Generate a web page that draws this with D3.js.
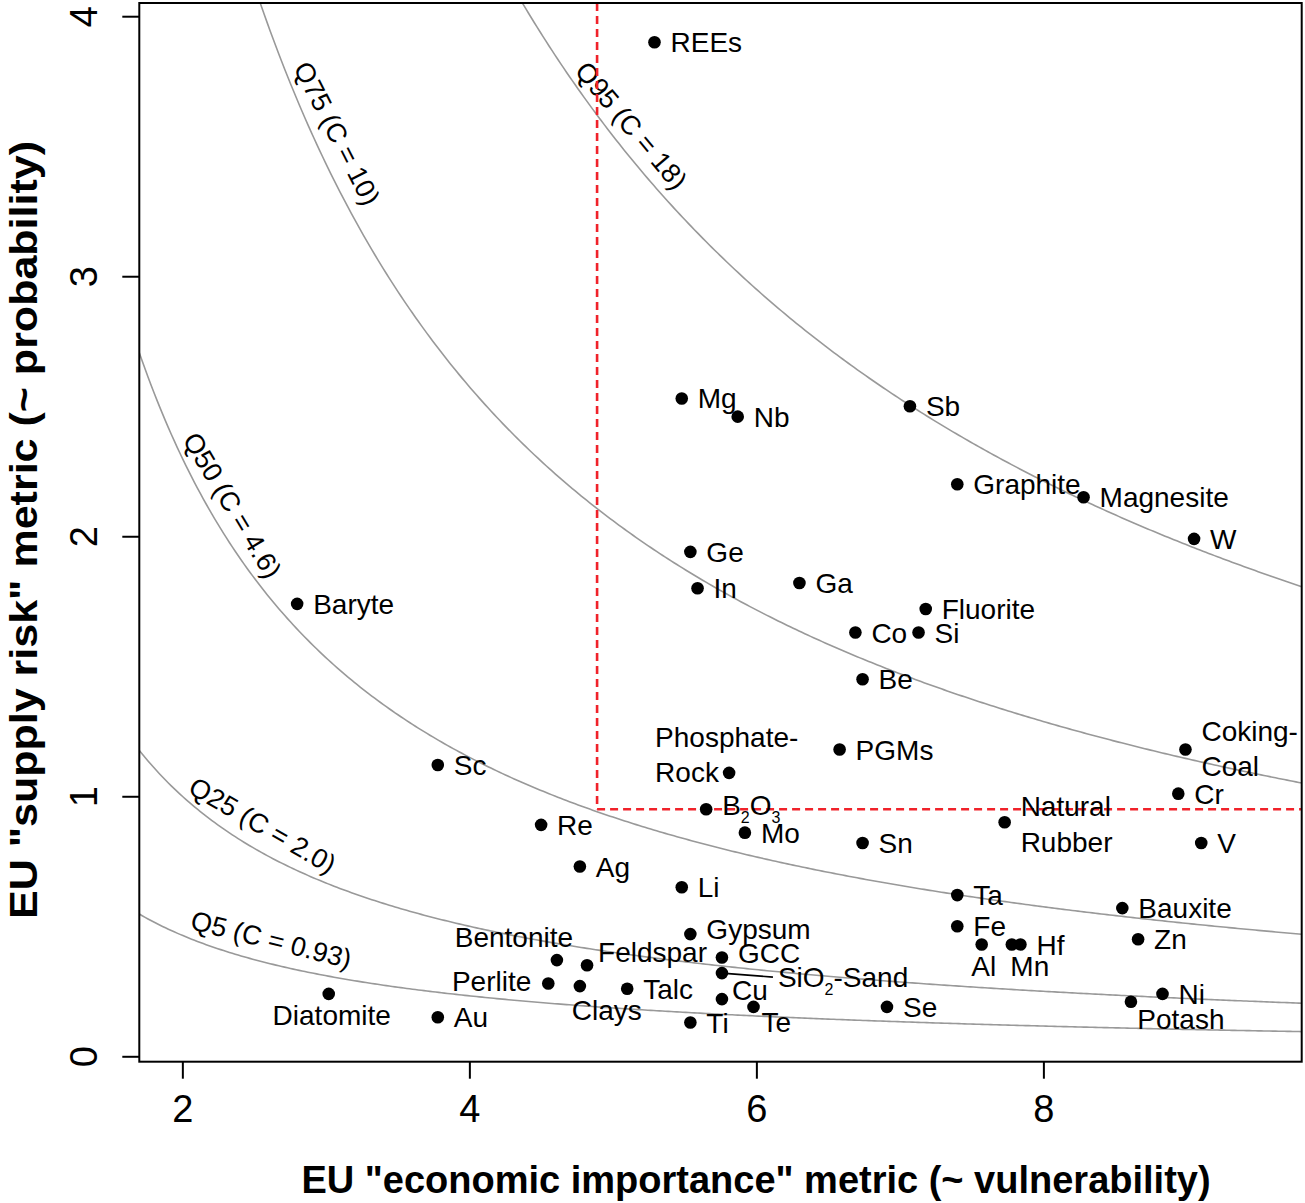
<!DOCTYPE html>
<html>
<head>
<meta charset="utf-8">
<script src="https://cdn.jsdelivr.net/npm/d3@7"></script>
<style>
  body { margin: 0; background: #fff; }
  text { font-family: "Liberation Sans", Arial, Helvetica, sans-serif; fill: #000; }
</style>
</head>
<body>
<svg id="chart" width="1305" height="1203"></svg>
<script>
// ---- data ----
const names = ["REEs","Mg","Nb","Sb","Graphite","Magnesite","W","Ge","In","Ga","Fluorite","Co","Si","Be",
  "Baryte","PGMs","Phosphate-Rock","Coking-Coal","Cr","Natural Rubber","V","Sc","B2O3","Mo","Sn","Re","Ag",
  "Li","Ta","Bauxite","Fe","Gypsum","Al","Mn","Hf","Zn","GCC","SiO2-Sand","Cu","Bentonite","Feldspar",
  "Perlite","Clays","Talc","Diatomite","Au","Ti","Te","Se","Ni","Potash"];
const importance = [5.29,5.48,5.87,7.07,7.40,8.28,9.05,5.54,5.59,6.30,7.18,6.69,7.13,6.74,
  2.80,6.58,5.81,8.99,8.94,7.73,9.10,3.78,5.65,5.92,6.74,4.50,4.77,
  5.48,7.40,8.55,7.40,5.54,7.57,7.78,7.84,8.66,5.76,5.76,5.76,4.61,4.82,
  4.55,4.77,5.10,3.02,3.78,5.54,5.98,6.91,8.83,8.61];
const supplyRisk = [3.90,2.53,2.46,2.50,2.20,2.15,1.99,1.94,1.80,1.82,1.72,1.63,1.63,1.45,
  1.74,1.18,1.09,1.18,1.01,0.90,0.82,1.12,0.95,0.86,0.82,0.89,0.73,
  0.65,0.62,0.57,0.50,0.47,0.43,0.43,0.43,0.45,0.38,0.32,0.22,0.37,0.35,
  0.28,0.27,0.26,0.24,0.15,0.13,0.19,0.19,0.24,0.21];

// iso-criticality curves y = C / x
const curveNames = ["Q5 (C = 0.93)","Q25 (C = 2.0)","Q50 (C = 4.6)","Q75 (C = 10)","Q95 (C = 18)"];
const curveC = [0.93, 2.0, 4.6, 10.3, 17.7];
const curveLabelX = [2.62, 2.56, 2.35, 3.08, 5.13];
const curveLabelY = [0.45, 0.89, 2.12, 3.55, 3.58];
const curveLabelAngle = [14, 30, 59, 63, 50];

// criticality thresholds (red dashed)
const thresholdImportance = 4.89;
const thresholdRisk = 0.95;

const xLim = [2, 9.5];
const xTicks = [2, 4, 6, 8];
const yTicks = [0, 1, 2, 3, 4];

// label placement (pixel offsets from the dot), default: right of the dot
const labelText = {
  "Phosphate-Rock": ["Phosphate-", "Rock"],
  "Coking-Coal": ["Coking-", "Coal"],
  "Natural Rubber": ["Natural", "Rubber"],
  "B2O3": ["B_2O_3"],
  "SiO2-Sand": ["SiO_2-Sand"]
};
const labelPlace = {
  "Mg": {dy: -1},
  "Phosphate-Rock": {dx: -74, dy: -36},
  "Coking-Coal": {dy: -19},
  "Natural Rubber": {dy: -16},
  "B2O3": {dy: -4},
  "SiO2-Sand": {dx: 56, dy: 4, leader: true},
  "Gypsum": {dy: -5},
  "GCC": {dy: -5},
  "Cu": {dx: 10, dy: -9},
  "Feldspar": {dx: 11, dy: -13},
  "Te": {dx: 8, dy: 15},
  "Clays": {anchor: "middle", dx: 27, dy: 24},
  "Perlite": {anchor: "end", dx: -17, dy: -3},
  "Bentonite": {anchor: "middle", dx: -43, dy: -23},
  "Diatomite": {anchor: "middle", dx: 3, dy: 21},
  "Al": {anchor: "middle", dx: 2, dy: 21},
  "Mn": {anchor: "middle", dx: 18, dy: 21},
  "Potash": {anchor: "middle", dx: 50, dy: 17}
};

// ---- layout ----
const svg = d3.select("#chart");
const plot = {left: 139.3, right: 1301.7, top: 3, bottom: 1061.7};
const fsLabel = 28, fsAxis = 38;

function pad(ext) { let r = ext[1] - ext[0]; return [ext[0] - 0.04 * r, ext[1] + 0.04 * r]; }

let x = d3.scaleLinear().domain(pad(xLim)).range([plot.left, plot.right]);
let y = d3.scaleLinear().domain(pad(d3.extent(supplyRisk))).range([plot.bottom, plot.top]);

svg.append("defs").append("clipPath").attr("id", "clip")
  .append("rect").attr("x", plot.left).attr("y", plot.top)
  .attr("width", plot.right - plot.left).attr("height", plot.bottom - plot.top);

let g_curves = svg.append("g").attr("clip-path", "url(#clip)");
let xs = d3.range(0, 401).map(i => x.domain()[0] + (x.domain()[1] - x.domain()[0]) * i / 400);
let line = d3.line().x(d => x(d[0])).y(d => y(d[1]));
curveC.forEach(function(c) {
  g_curves.append("path")
    .attr("d", line(xs.map(v => [v, c / v])))
    .attr("fill", "none").attr("stroke", "#999").attr("stroke-width", 1.6);
});

curveNames.forEach(function(t, i) {
  svg.append("text")
    .attr("transform", "translate(" + x(curveLabelX[i]) + "," + y(curveLabelY[i]) + ") rotate(" + curveLabelAngle[i] + ")")
    .attr("text-anchor", "middle").attr("dy", "0.36em")
    .style("font-size", "27px")
    .text(t);
});

// red dashed threshold lines
svg.append("line")
  .attr("x1", x(thresholdImportance)).attr("x2", x(thresholdImportance))
  .attr("y1", plot.top).attr("y2", y(thresholdRisk))
  .attr("stroke", "#f0222a").attr("stroke-width", 2.6).attr("stroke-dasharray", "8,5");
svg.append("line")
  .attr("x1", x(thresholdImportance)).attr("x2", plot.right)
  .attr("y1", y(thresholdRisk)).attr("y2", y(thresholdRisk))
  .attr("stroke", "#f0222a").attr("stroke-width", 2.6).attr("stroke-dasharray", "8,5");

// points
let pts = names.map((n, i) => ({name: n, x: importance[i], y: supplyRisk[i]}));
let g_pts = svg.append("g");
g_pts.selectAll("circle").data(pts).enter().append("circle")
  .attr("cx", d => x(d.x)).attr("cy", d => y(d.y)).attr("r", 6.3).attr("fill", "#000");

// labels
let g_lab = svg.append("g").style("font-size", fsLabel + "px");
pts.forEach(function(d) {
  let p = Object.assign({anchor: "start", dx: 16, dy: 0}, labelPlace[d.name] || {});
  let lines = labelText[d.name] || [d.name];
  let px = x(d.x) + p.dx, py = y(d.y) + p.dy;
  if (p.leader) {
    g_lab.append("line").attr("x1", x(d.x)).attr("y1", y(d.y))
      .attr("x2", px - 5).attr("y2", py).attr("stroke", "#000").attr("stroke-width", 1.6);
  }
  let t = g_lab.append("text").attr("text-anchor", p.anchor);
  lines.forEach(function(l, k) {
    let parts = l.split(/_(\d)/);
    parts.forEach(function(s, j) {
      if (s === "") return;
      let ts = t.append("tspan").text(s);
      if (j === 0) ts.attr("x", px).attr("y", py + k * 35.5 + 0.36 * fsLabel);
      if (j % 2 === 1) {
        ts.style("font-size", "16px").attr("dy", 8);
      } else if (j > 0) {
        ts.attr("dy", -8);
      }
    });
  });
});

// frame
svg.append("rect").attr("x", plot.left).attr("y", plot.top)
  .attr("width", plot.right - plot.left).attr("height", plot.bottom - plot.top)
  .attr("fill", "none").attr("stroke", "#000").attr("stroke-width", 2);

// axes
let xAxis = svg.append("g").attr("transform", "translate(0," + plot.bottom + ")")
  .call(d3.axisBottom(x).tickValues(xTicks).tickSize(17).tickPadding(16).tickFormat(d3.format("d")));
let yAxis = svg.append("g").attr("transform", "translate(" + plot.left + ",0)")
  .call(d3.axisLeft(y).tickValues(yTicks).tickSize(17).tickFormat(d3.format("d")));
[xAxis, yAxis].forEach(function(a) {
  a.select(".domain").remove();
  a.selectAll(".tick line").attr("stroke", "#000").attr("stroke-width", 2);
  a.selectAll(".tick text").style("font-size", fsAxis + "px")
    .style("font-family", "'Liberation Sans', Arial, sans-serif");
});
yAxis.selectAll(".tick text")
  .attr("x", null).attr("dy", null).attr("text-anchor", "middle")
  .attr("transform", "translate(-55,0) rotate(-90) translate(0,13)");

// axis titles
svg.append("text").attr("x", 756).attr("y", 1179).attr("dy", "0.36em")
  .attr("text-anchor", "middle").style("font-size", fsAxis + "px").style("font-weight", "bold")
  .text('EU "economic importance" metric (~ vulnerability)');
svg.append("text")
  .attr("transform", "translate(23,530) rotate(-90)")
  .attr("dy", "0.36em").attr("text-anchor", "middle")
  .attr("textLength", 778).attr("lengthAdjust", "spacingAndGlyphs")
  .style("font-size", fsAxis + "px").style("font-weight", "bold")
  .text('EU "supply risk" metric (~ probability)');
</script>
</body>
</html>
